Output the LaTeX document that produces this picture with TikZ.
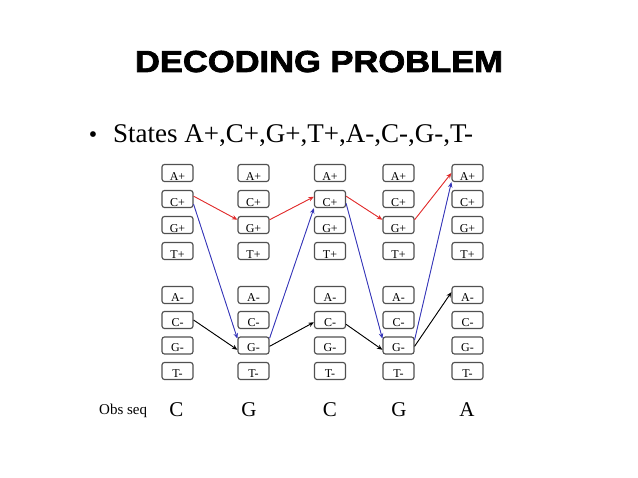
\documentclass[tikz,border=0pt]{standalone}
\usepackage{fontspec}
\setmainfont{Liberation Serif}
\newfontfamily\titlefont[BoldFeatures={FakeBold=2.2}]{Liberation Sans}
\usetikzlibrary{arrows.meta}
\definecolor{boxgray}{RGB}{80,80,80}
\definecolor{arrred}{RGB}{225,45,45}
\definecolor{arrblue}{RGB}{55,55,185}
\tikzset{
  statebox/.style={draw=boxgray, line width=1.15pt, rounded corners=2.5pt, minimum width=31pt, minimum height=17pt, inner sep=0pt, font=\fontsize{12}{12}\selectfont},
  plusbox/.style={statebox, text height=16pt, text depth=0pt},
  minusbox/.style={statebox, text height=13pt, text depth=0pt},
  arr/.style={-{Stealth[length=5.5pt,width=4.5pt]}, line width=0.9pt},
  redarr/.style={arr, draw=arrred, fill=arrred},
  bluearr/.style={arr, draw=arrblue, fill=arrblue},
  blackarr/.style={arr, draw=black, fill=black},
  obsletter/.style={anchor=base, font=\fontsize{21}{24}\selectfont}
}
\begin{document}
\begin{tikzpicture}[x=1pt, y=-1pt]
\useasboundingbox (0,0) rectangle (638,478);
\node[anchor=base] (title) at (319,72) {\scalebox{1}[0.88]{\titlefont\fontsize{34.5}{40}\selectfont\bfseries DECODING PROBLEM}};
\node[anchor=base, font=\fontsize{24}{28}\selectfont] (bullet) at (93,143) {•};
\node[anchor=base west, font=\fontsize{27}{32}\selectfont, inner sep=0pt] (states) at (113,143) {States A+,C+,G+,T+,A-,C-,G-,T-};
\foreach \i/\x in {1/177.5,2/253.5,3/330,4/398.5,5/467.5} {
  \foreach \r/\lab/\y in {Ap/A+/173,Cp/C+/199,Gp/G+/225,Tp/T+/251}
    \node[plusbox] (c\i\r) at (\x,\y) {\lab};
  \foreach \r/\lab/\y in {Am/A-/295,Cm/C-/320,Gm/G-/345.5,Tm/T-/371}
    \node[minusbox] (c\i\r) at (\x,\y) {\lab};
}
\node[anchor=base west, inner sep=0pt, font=\fontsize{15}{18}\selectfont] (obs) at (99,415) {Obs seq};
\node[obsletter] (o1) at (176.5,417) {C};
\node[obsletter] (o2) at (249,417) {G};
\node[obsletter] (o3) at (330,417) {C};
\node[obsletter] (o4) at (399,417) {G};
\node[obsletter] (o5) at (467,417) {A};
% red path
\draw[redarr] (c1Cp.10) -- (c2Gp.162);
\draw[redarr] (c2Gp.18) -- (c3Cp.172);
\draw[redarr] (c3Cp.10) -- (c4Gp.162);
\draw[redarr] (c4Gp.18) -- (c5Ap.west);
% blue path
\draw[bluearr] (c1Cp.-18) -- (c2Gm.157);
\draw[bluearr] (c2Gm.24) -- (c3Cp.south west);
\draw[bluearr] (c3Cp.-15) -- (c4Gm.157);
\draw[bluearr] (c4Gm.19) -- (c5Ap.south west);
% black path
\draw[blackarr] (c1Cm.east) -- (c2Gm.195);
\draw[blackarr] (c2Gm.-3) -- (c3Cm.188);
\draw[blackarr] (c3Cm.-15) -- (c4Gm.195);
\draw[blackarr] (c4Gm.-3) -- (c5Am.170);
\end{tikzpicture}
\end{document}
